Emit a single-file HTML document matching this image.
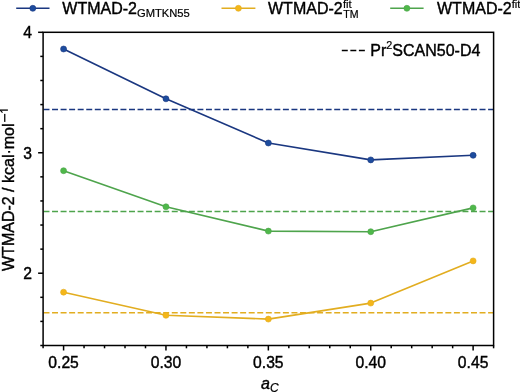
<!DOCTYPE html>
<html><head><meta charset="utf-8"><style>
html,body{margin:0;padding:0;background:#fff;}
body{width:520px;height:392px;overflow:hidden;}
svg{display:block;will-change:transform;}
text{font-family:"Liberation Sans",sans-serif;fill:#000;stroke:#000;stroke-width:0.4px;}
.s{stroke-width:0.2px;}
</style></head><body>
<svg width="520" height="392" viewBox="0 0 520 392">
<rect x="0" y="0" width="520" height="392" fill="#fff"/>

<line x1="43.5" y1="109.5" x2="493.6" y2="109.5" stroke="#1a3780" stroke-width="1.6" stroke-dasharray="5.97,2.58"/>
<line x1="43.5" y1="211.5" x2="493.6" y2="211.5" stroke="#4ea44c" stroke-width="1.6" stroke-dasharray="5.97,2.58"/>
<line x1="43.5" y1="312.7" x2="493.6" y2="312.7" stroke="#e2ad20" stroke-width="1.6" stroke-dasharray="5.97,2.58"/>
<polyline points="63.58,49.00 165.96,98.80 268.35,143.00 370.74,159.90 473.12,155.30" fill="none" stroke="#1a3780" stroke-width="1.6" stroke-linejoin="round"/>
<circle cx="63.58" cy="49.00" r="3.0" fill="#1d4c9e" stroke="#1a3780" stroke-width="0.6"/>
<circle cx="165.96" cy="98.80" r="3.0" fill="#1d4c9e" stroke="#1a3780" stroke-width="0.6"/>
<circle cx="268.35" cy="143.00" r="3.0" fill="#1d4c9e" stroke="#1a3780" stroke-width="0.6"/>
<circle cx="370.74" cy="159.90" r="3.0" fill="#1d4c9e" stroke="#1a3780" stroke-width="0.6"/>
<circle cx="473.12" cy="155.30" r="3.0" fill="#1d4c9e" stroke="#1a3780" stroke-width="0.6"/>
<polyline points="63.58,292.20 165.96,315.30 268.35,319.10 370.74,303.10 473.12,260.90" fill="none" stroke="#e2ad20" stroke-width="1.6" stroke-linejoin="round"/>
<circle cx="63.58" cy="292.20" r="3.0" fill="#f4b61a" stroke="#e2ad20" stroke-width="0.6"/>
<circle cx="165.96" cy="315.30" r="3.0" fill="#f4b61a" stroke="#e2ad20" stroke-width="0.6"/>
<circle cx="268.35" cy="319.10" r="3.0" fill="#f4b61a" stroke="#e2ad20" stroke-width="0.6"/>
<circle cx="370.74" cy="303.10" r="3.0" fill="#f4b61a" stroke="#e2ad20" stroke-width="0.6"/>
<circle cx="473.12" cy="260.90" r="3.0" fill="#f4b61a" stroke="#e2ad20" stroke-width="0.6"/>
<polyline points="63.58,170.70 165.96,206.80 268.35,231.10 370.74,231.70 473.12,207.90" fill="none" stroke="#4ea44c" stroke-width="1.6" stroke-linejoin="round"/>
<circle cx="63.58" cy="170.70" r="3.0" fill="#4fb84a" stroke="#4ea44c" stroke-width="0.6"/>
<circle cx="165.96" cy="206.80" r="3.0" fill="#4fb84a" stroke="#4ea44c" stroke-width="0.6"/>
<circle cx="268.35" cy="231.10" r="3.0" fill="#4fb84a" stroke="#4ea44c" stroke-width="0.6"/>
<circle cx="370.74" cy="231.70" r="3.0" fill="#4fb84a" stroke="#4ea44c" stroke-width="0.6"/>
<circle cx="473.12" cy="207.90" r="3.0" fill="#4fb84a" stroke="#4ea44c" stroke-width="0.6"/>
<rect x="43.1" y="32.3" width="450.50" height="313.20" fill="none" stroke="#000" stroke-width="1.5"/>
<line x1="40.30" y1="345.50" x2="43.1" y2="345.50" stroke="#000" stroke-width="1.5"/>
<line x1="40.30" y1="321.41" x2="43.1" y2="321.41" stroke="#000" stroke-width="1.5"/>
<line x1="40.30" y1="297.32" x2="43.1" y2="297.32" stroke="#000" stroke-width="1.5"/>
<line x1="38.10" y1="273.22" x2="43.1" y2="273.22" stroke="#000" stroke-width="1.5"/>
<line x1="40.30" y1="249.13" x2="43.1" y2="249.13" stroke="#000" stroke-width="1.5"/>
<line x1="40.30" y1="225.04" x2="43.1" y2="225.04" stroke="#000" stroke-width="1.5"/>
<line x1="40.30" y1="200.95" x2="43.1" y2="200.95" stroke="#000" stroke-width="1.5"/>
<line x1="40.30" y1="176.85" x2="43.1" y2="176.85" stroke="#000" stroke-width="1.5"/>
<line x1="38.10" y1="152.76" x2="43.1" y2="152.76" stroke="#000" stroke-width="1.5"/>
<line x1="40.30" y1="128.67" x2="43.1" y2="128.67" stroke="#000" stroke-width="1.5"/>
<line x1="40.30" y1="104.58" x2="43.1" y2="104.58" stroke="#000" stroke-width="1.5"/>
<line x1="40.30" y1="80.48" x2="43.1" y2="80.48" stroke="#000" stroke-width="1.5"/>
<line x1="40.30" y1="56.39" x2="43.1" y2="56.39" stroke="#000" stroke-width="1.5"/>
<line x1="38.10" y1="32.30" x2="43.1" y2="32.30" stroke="#000" stroke-width="1.5"/>
<line x1="43.10" y1="345.5" x2="43.10" y2="348.30" stroke="#000" stroke-width="1.5"/>
<line x1="63.58" y1="345.5" x2="63.58" y2="350.50" stroke="#000" stroke-width="1.5"/>
<line x1="84.05" y1="345.5" x2="84.05" y2="348.30" stroke="#000" stroke-width="1.5"/>
<line x1="104.53" y1="345.5" x2="104.53" y2="348.30" stroke="#000" stroke-width="1.5"/>
<line x1="125.01" y1="345.5" x2="125.01" y2="348.30" stroke="#000" stroke-width="1.5"/>
<line x1="145.49" y1="345.5" x2="145.49" y2="348.30" stroke="#000" stroke-width="1.5"/>
<line x1="165.96" y1="345.5" x2="165.96" y2="350.50" stroke="#000" stroke-width="1.5"/>
<line x1="186.44" y1="345.5" x2="186.44" y2="348.30" stroke="#000" stroke-width="1.5"/>
<line x1="206.92" y1="345.5" x2="206.92" y2="348.30" stroke="#000" stroke-width="1.5"/>
<line x1="227.40" y1="345.5" x2="227.40" y2="348.30" stroke="#000" stroke-width="1.5"/>
<line x1="247.87" y1="345.5" x2="247.87" y2="348.30" stroke="#000" stroke-width="1.5"/>
<line x1="268.35" y1="345.5" x2="268.35" y2="350.50" stroke="#000" stroke-width="1.5"/>
<line x1="288.83" y1="345.5" x2="288.83" y2="348.30" stroke="#000" stroke-width="1.5"/>
<line x1="309.30" y1="345.5" x2="309.30" y2="348.30" stroke="#000" stroke-width="1.5"/>
<line x1="329.78" y1="345.5" x2="329.78" y2="348.30" stroke="#000" stroke-width="1.5"/>
<line x1="350.26" y1="345.5" x2="350.26" y2="348.30" stroke="#000" stroke-width="1.5"/>
<line x1="370.74" y1="345.5" x2="370.74" y2="350.50" stroke="#000" stroke-width="1.5"/>
<line x1="391.21" y1="345.5" x2="391.21" y2="348.30" stroke="#000" stroke-width="1.5"/>
<line x1="411.69" y1="345.5" x2="411.69" y2="348.30" stroke="#000" stroke-width="1.5"/>
<line x1="432.17" y1="345.5" x2="432.17" y2="348.30" stroke="#000" stroke-width="1.5"/>
<line x1="452.65" y1="345.5" x2="452.65" y2="348.30" stroke="#000" stroke-width="1.5"/>
<line x1="473.12" y1="345.5" x2="473.12" y2="350.50" stroke="#000" stroke-width="1.5"/>
<line x1="493.60" y1="345.5" x2="493.60" y2="348.30" stroke="#000" stroke-width="1.5"/>
<text x="31.9" y="278.97" font-size="15.7" text-anchor="end">2</text>
<text x="31.9" y="158.51" font-size="15.7" text-anchor="end">3</text>
<text x="31.9" y="38.05" font-size="15.7" text-anchor="end">4</text>
<text x="63.58" y="367.6" font-size="15.7" text-anchor="middle">0.25</text>
<text x="165.96" y="367.6" font-size="15.7" text-anchor="middle">0.30</text>
<text x="268.35" y="367.6" font-size="15.7" text-anchor="middle">0.35</text>
<text x="370.74" y="367.6" font-size="15.7" text-anchor="middle">0.40</text>
<text x="473.12" y="367.6" font-size="15.7" text-anchor="middle">0.45</text>
<text x="261" y="388.6" font-size="16" font-style="italic">a<tspan class="s" font-size="12" dy="3.0">C</tspan></text>
<g transform="translate(14.2,0.8) rotate(-90)"><text x="-270.2" y="0" font-size="16">WTMAD-2 / kcal·mol</text><rect x="-121.1" y="-10.1" width="8.0" height="1.3" fill="#000"/></g>
<rect x="-0.5" y="109.45" width="8.4" height="1.3" fill="#000"/><line x1="0.3" y1="110.3" x2="2.5" y2="112.7" stroke="#000" stroke-width="1.2"/>
<line x1="341.8" y1="50.5" x2="365.5" y2="50.5" stroke="#000" stroke-width="1.6" stroke-dasharray="5.97,2.58"/>
<text x="370.3" y="55.6" font-size="16">Pr<tspan class="s" font-size="10.8" dy="-6.2">2</tspan><tspan dy="6.2">SCAN50-D4</tspan></text>
<line x1="16.2" y1="8.3" x2="49.5" y2="8.3" stroke="#1a3780" stroke-width="1.6"/>
<circle cx="32.8" cy="8.3" r="3.0" fill="#1d4c9e" stroke="#1a3780" stroke-width="0.6"/>
<line x1="221.5" y1="8.3" x2="255.4" y2="8.3" stroke="#e2ad20" stroke-width="1.6"/>
<circle cx="238.4" cy="8.3" r="3.0" fill="#f4b61a" stroke="#e2ad20" stroke-width="0.6"/>
<line x1="390.2" y1="8.3" x2="423.6" y2="8.3" stroke="#4ea44c" stroke-width="1.6"/>
<circle cx="406.9" cy="8.3" r="3.0" fill="#4fb84a" stroke="#4ea44c" stroke-width="0.6"/>
<text x="62.3" y="14" font-size="16">WTMAD-2<tspan class="s" font-size="11.2" dy="3">GMTKN55</tspan></text>
<text x="268" y="14" font-size="16">WTMAD-2</text>
<text class="s" x="343" y="7.7" font-size="11.2">fit</text>
<text class="s" x="343.3" y="18.4" font-size="10.6">TM</text>
<text x="437" y="14" font-size="16">WTMAD-2<tspan class="s" font-size="11.2" dy="-6.3">fit</tspan></text>
</svg></body></html>
